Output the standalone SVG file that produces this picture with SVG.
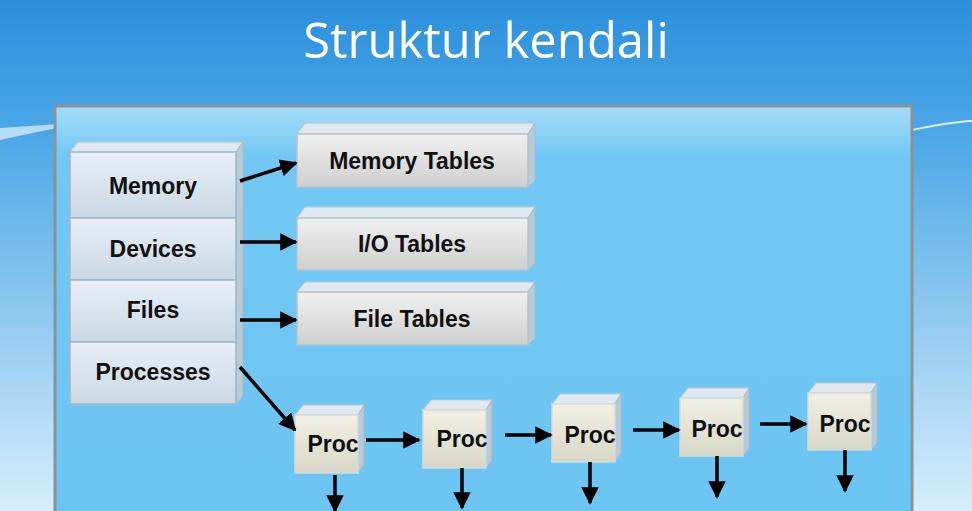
<svg xmlns="http://www.w3.org/2000/svg" width="972" height="511" viewBox="0 0 972 511">
<defs>
<linearGradient id="bg" x1="0" y1="0" x2="0" y2="1"><stop offset="0" stop-color="#2b8fdc"/><stop offset="0.25" stop-color="#4aa6e6"/><stop offset="1" stop-color="#d6eefa"/></linearGradient>
<linearGradient id="panel" x1="0" y1="0" x2="0" y2="1"><stop offset="0" stop-color="#a6dcf7"/><stop offset="0.12" stop-color="#72c8f4"/><stop offset="1" stop-color="#6cc4f2"/></linearGradient>
<linearGradient id="face" x1="0" y1="0" x2="0" y2="1"><stop offset="0" stop-color="#e8eff5"/><stop offset="1" stop-color="#c9d8e4"/></linearGradient>
<linearGradient id="tab" x1="0" y1="0" x2="0" y2="1"><stop offset="0" stop-color="#f0f0f0"/><stop offset="1" stop-color="#cfcfcf"/></linearGradient>
<linearGradient id="proc" x1="0" y1="0" x2="0" y2="1"><stop offset="0" stop-color="#f2f0e4"/><stop offset="1" stop-color="#d8d6c6"/></linearGradient>
<marker id="ah" viewBox="0 0 10 10" refX="9" refY="5" markerWidth="5" markerHeight="5" orient="auto"><path d="M0,0 L10,5 L0,10 z" fill="#000"/></marker>
<style>
.lbl{font-family:"Liberation Sans",Arial,sans-serif;font-weight:bold;font-size:23px;fill:#111;text-anchor:middle}
.top{fill:#dfe8ee;stroke:#b9c8d2;stroke-width:1}
.side{fill:#b9cad6;stroke:#a9bac6;stroke-width:1}
.frontL{fill:url(#face);stroke:#9fb6c6;stroke-width:1.5}
.frontT{fill:url(#tab);stroke:#b0c4cf;stroke-width:1.5}
.frontP{fill:url(#proc);stroke:#cfdbe0;stroke-width:1.5}
.con{stroke:#000;stroke-width:3.5;fill:none;marker-end:url(#ah)}
</style>
</defs>
<rect width="972" height="511" fill="url(#bg)"/>
<path d="M0,140 Q150,105 300,108 L0,128 z" fill="#ffffff" opacity="0.6"/>
<path d="M912,130 Q950,122 972,121" stroke="#fff" stroke-width="2" fill="none" opacity="0.8"/>
<text x="486" y="58" font-family="'Open Sans','Noto Sans',sans-serif" font-size="49" fill="#fff" text-anchor="middle">Struktur kendali</text>
<rect x="55" y="106" width="857" height="410" fill="url(#panel)" stroke="#8a9298" stroke-width="3"/>

<g id="stack">
<path class="top" d="M70,152 L78,142 L243,142 L236,152 z"/>
<path class="side" d="M236,152 L243,142 L243,396 L236,404 z"/>
<g id="memory"><rect class="frontL" x="70" y="152" width="166" height="66"/><text class="lbl" x="153" y="194">Memory</text></g>
<g id="devices"><rect class="frontL" x="70" y="218" width="166" height="62"/><text class="lbl" x="153" y="257">Devices</text></g>
<g id="files"><rect class="frontL" x="70" y="280" width="166" height="62"/><text class="lbl" x="153" y="318">Files</text></g>
<g id="processes"><rect class="frontL" x="70" y="342" width="166" height="62"/><text class="lbl" x="153" y="380">Processes</text></g>
</g>

<g id="memtables"><path class="top" d="M297,134 L305,123 L535,123 L528,134 z"/><path class="side" d="M528,134 L535,123 L535,180 L528,187 z"/><rect class="frontT" x="297" y="134" width="231" height="53"/><text class="lbl" x="412" y="169">Memory Tables</text></g>
<g id="iotables"><path class="top" d="M297,218 L305,207 L535,207 L528,218 z"/><path class="side" d="M528,218 L535,207 L535,263 L528,270 z"/><rect class="frontT" x="297" y="218" width="231" height="52"/><text class="lbl" x="412" y="252">I/O Tables</text></g>
<g id="filetables"><path class="top" d="M297,292 L305,282 L535,282 L528,292 z"/><path class="side" d="M528,292 L535,282 L535,338 L528,345 z"/><rect class="frontT" x="297" y="292" width="231" height="53"/><text class="lbl" x="412" y="327">File Tables</text></g>

<g id="proc1"><path class="top" d="M295,415 L303,405 L364,405 L358,415 z"/><path class="side" d="M358,415 L364,405 L364,465 L358,473 z"/><rect class="frontP" x="295" y="415" width="63" height="58"/><text class="lbl" x="333" y="452">Proc</text></g>
<g id="proc2"><path class="top" d="M423,410 L431,400 L492,400 L486,410 z"/><path class="side" d="M486,410 L492,400 L492,460 L486,468 z"/><rect class="frontP" x="423" y="410" width="63" height="58"/><text class="lbl" x="462" y="447">Proc</text></g>
<g id="proc3"><path class="top" d="M552,404 L560,394 L621,394 L615,404 z"/><path class="side" d="M615,404 L621,394 L621,454 L615,462 z"/><rect class="frontP" x="552" y="404" width="63" height="58"/><text class="lbl" x="590" y="443">Proc</text></g>
<g id="proc4"><path class="top" d="M680,398 L688,388 L749,388 L743,398 z"/><path class="side" d="M743,398 L749,388 L749,448 L743,456 z"/><rect class="frontP" x="680" y="398" width="63" height="58"/><text class="lbl" x="717" y="437">Proc</text></g>
<g id="proc5"><path class="top" d="M808,393 L816,383 L877,383 L871,393 z"/><path class="side" d="M871,393 L877,383 L877,443 L871,450 z"/><rect class="frontP" x="808" y="393" width="63" height="57"/><text class="lbl" x="845" y="432">Proc</text></g>

<g id="connectors">
<line class="con" x1="240" y1="181" x2="296" y2="163"/>
<line class="con" x1="240" y1="242" x2="296" y2="242"/>
<line class="con" x1="240" y1="320" x2="296" y2="320"/>
<line class="con" x1="240" y1="367" x2="295" y2="430"/>
<line class="con" x1="366" y1="440" x2="419" y2="440"/>
<line class="con" x1="505" y1="435" x2="551" y2="435"/>
<line class="con" x1="633" y1="430" x2="679" y2="430"/>
<line class="con" x1="760" y1="424" x2="806" y2="424"/>
<line class="con" x1="335" y1="475" x2="335" y2="511"/>
<line class="con" x1="462" y1="468" x2="462" y2="508"/>
<line class="con" x1="590" y1="462" x2="590" y2="503"/>
<line class="con" x1="717" y1="456" x2="717" y2="497"/>
<line class="con" x1="845" y1="450" x2="845" y2="491"/>
</g>
</svg>
